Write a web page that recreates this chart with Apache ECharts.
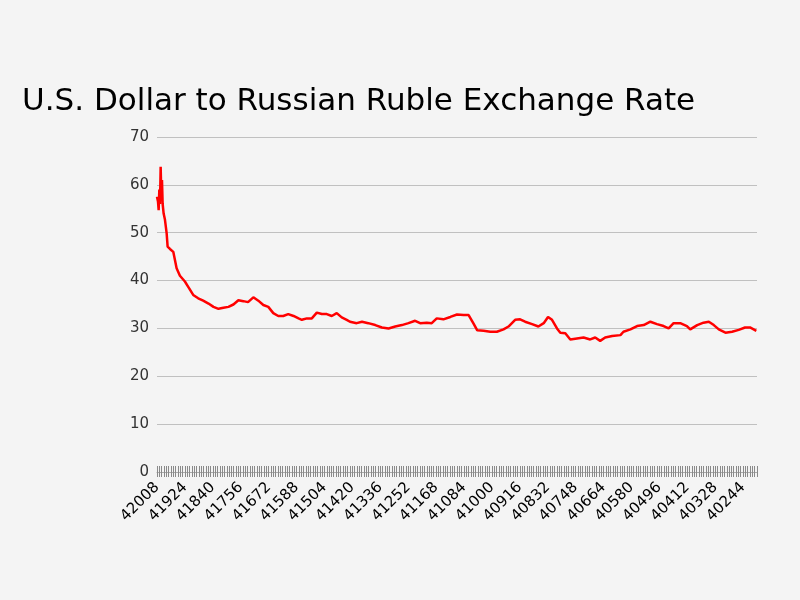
<!DOCTYPE html>
<html>
<head>
<meta charset="utf-8">
<title>U.S. Dollar to Russian Ruble Exchange Rate</title>
<script src="https://cdn.jsdelivr.net/npm/echarts@6/dist/echarts.min.js"></script>
<style>
  html, body { margin: 0; padding: 0; background: #f4f4f4; }
  #chart { width: 800px; height: 600px; }
</style>
</head>
<body>
<div id="chart"></div>
<script>
// category axis runs from firstDay down to lastDay (one category per day)
const firstDay = 42008
const lastDay = 40202

const sampleDays = [
  42008, 42005, 42003, 42001, 41999, 41997, 41995, 41993, 41991, 41988,
  41984, 41979, 41976, 41969, 41959, 41954, 41949, 41939, 41924, 41914,
  41899, 41884, 41869, 41853, 41838, 41823, 41808, 41793, 41778, 41763,
  41748, 41734, 41718, 41703, 41688, 41673, 41658, 41643, 41628, 41613,
  41597, 41582, 41572, 41557, 41542, 41527, 41512, 41497, 41482, 41467,
  41452, 41437, 41427, 41407, 41391, 41372, 41351, 41331, 41311, 41291,
  41271, 41251, 41231, 41216, 41196, 41181, 41166, 41146, 41125, 41105,
  41085, 41070, 41056, 41044, 41025, 41005, 40985, 40965, 40950, 40930,
  40915, 40900, 40879, 40860, 40844, 40831, 40819, 40804, 40794, 40779,
  40764, 40744, 40724, 40704, 40689, 40674, 40659, 40638, 40613, 40604,
  40583, 40563, 40543, 40523, 40503, 40483, 40468, 40453, 40433, 40413,
  40403, 40382, 40363, 40347, 40332, 40317, 40297, 40277, 40257, 40238,
  40223, 40204
]
const rates = [
  57.5, 56.5, 54.7, 59.0, 56.0, 63.8, 58.0, 61.0, 56.0, 54.0,
  52.7, 49.9, 47.1, 46.6, 46.0, 44.3, 42.6, 41.0, 39.8, 38.7,
  37.0, 36.3, 35.8, 35.2, 34.5, 34.1, 34.3, 34.5, 35.0, 35.9,
  35.7, 35.5, 36.5, 35.8, 34.9, 34.5, 33.2, 32.6, 32.6, 33.0,
  32.6, 32.1, 31.8, 32.1, 32.1, 33.3, 33.0, 33.0, 32.6, 33.2,
  32.3, 31.8, 31.4, 31.1, 31.4, 31.1, 30.7, 30.2, 30.0, 30.4,
  30.7, 31.1, 31.6, 31.1, 31.2, 31.1, 32.1, 31.9, 32.4, 32.9,
  32.8, 32.8, 31.1, 29.6, 29.5, 29.3, 29.3, 29.8, 30.4, 31.8,
  31.9, 31.4, 30.9, 30.4, 31.1, 32.4, 31.8, 30.0, 29.1, 29.0,
  27.7, 27.9, 28.1, 27.7, 28.1, 27.4, 28.1, 28.4, 28.6, 29.3,
  29.8, 30.5, 30.7, 31.4, 30.9, 30.5, 30.0, 31.1, 31.1, 30.5,
  29.8, 30.7, 31.2, 31.4, 30.7, 29.8, 29.1, 29.3, 29.7, 30.2,
  30.2, 29.5
]

const yTicks = { min: 0, max: 70, step: 10 }

const categories = []
for (let d = firstDay; d >= lastDay; d--) categories.push(String(d))

const chart = echarts.init(document.getElementById('chart'))

const tickStyle = { color: '#8a8a8a', width: 1 }

const option = {
  backgroundColor: '#f4f4f4',
  animation: false,
  title: {
    text: 'U.S. Dollar to Russian Ruble Exchange Rate',
    left: 17,
    top: 81,
    textStyle: {
      fontFamily: 'DejaVu Sans',
      fontSize: 31,
      fontWeight: 'normal',
      color: '#000'
    }
  },
  grid: {
    left: 157,
    right: 43,
    top: 137,
    bottom: 128
  },
  xAxis: [
    {
      type: 'category',
      data: categories,
      boundaryGap: false,
      axisLine: { show: true, lineStyle: { color: '#aaa', width: 1 } },
      axisTick: { show: true, interval: 6, length: 5, lineStyle: tickStyle },
      axisLabel: {
        interval: 83,
        rotate: 45,
        margin: 13,
        fontFamily: 'DejaVu Sans',
        fontSize: 15,
        color: '#000'
      },
      splitLine: { show: false }
    },
    {
      // same axis again, only to draw the upper half of the crossing ticks
      type: 'category',
      data: categories,
      position: 'bottom',
      boundaryGap: false,
      axisLine: { show: false },
      axisTick: { show: true, inside: true, interval: 6, length: 6, lineStyle: tickStyle },
      axisLabel: { show: false },
      splitLine: { show: false }
    }
  ],
  yAxis: {
    type: 'value',
    min: yTicks.min,
    max: yTicks.max,
    interval: yTicks.step,
    axisLine: { show: false },
    axisTick: { show: false },
    axisLabel: {
      margin: 8,
      fontFamily: 'DejaVu Sans',
      fontSize: 15,
      color: '#333'
    },
    splitLine: { lineStyle: { color: '#c0c0c0', width: 1 } }
  },
  series: [
    {
      name: 'USD/RUB',
      type: 'line',
      xAxisIndex: 0,
      data: sampleDays.map((d, i) => [firstDay - d, rates[i]]),
      showSymbol: false,
      lineStyle: { color: '#ff0000', width: 2.5 },
      itemStyle: { color: '#ff0000' }
    }
  ]
}

chart.setOption(option)
</script>
</body>
</html>
